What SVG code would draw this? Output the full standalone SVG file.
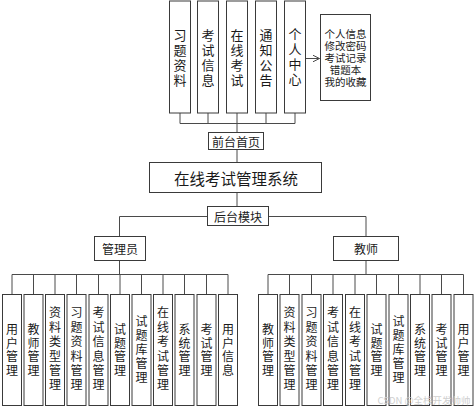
<svg xmlns="http://www.w3.org/2000/svg" width="474" height="409" viewBox="0 0 474 409">
<style>
.box{fill:#fff;stroke:#3a3a3a;stroke-width:1}
.ln{fill:none;stroke:#4a4a4a;stroke-width:1}
text{font-family:"Noto Sans CJK SC","Noto Sans",sans-serif;fill:#1a1a1a;text-anchor:middle;dominant-baseline:central}
.v{writing-mode:vertical-rl}
.t13{font-size:13px;letter-spacing:2px}
.v4{font-size:12px;letter-spacing:1.5px}
.v5{font-size:12px;letter-spacing:2px}
.v6{font-size:12px;letter-spacing:2.4px}
.t12{font-size:12px}
.t11{font-size:10.5px}
.big{font-size:15.5px}
.wm{font-size:9.5px;fill:#d0d0d0}
</style>
<defs>
<marker id="arr" markerWidth="8" markerHeight="8" refX="7" refY="4" orient="auto" markerUnits="userSpaceOnUse">
<path d="M0,0.5 L7,4 L0,7.5" fill="none" stroke="#4a4a4a" stroke-width="1"/>
</marker>
</defs>
<rect width="474" height="409" fill="#fff"/>
<g id="connectors">
<path class="ln" d="M180,113 V123.5 M208,113 V123.5 M237,113 V123.5 M266,113 V123.5 M295,113 V123.5 M180,123.5 H295 M237,123.5 V132"/>
<path class="ln" d="M306,58.5 H319.5" marker-end="url(#arr)"/>
<path class="ln" d="M237,150 V162 M237,193 V206"/>
<path class="ln" d="M119.5,216.5 H366 M119.5,216.5 V236 M366,216.5 V236"/>
<path class="ln" d="M119.5,261 V274.5 M12,274.5 H228 M12,274.5 V294 M33.5,274.5 V294 M55,274.5 V294 M76.5,274.5 V294 M98.5,274.5 V294 M120,274.5 V294 M141.5,274.5 V294 M163,274.5 V294 M184.5,274.5 V294 M206.5,274.5 V294 M228,274.5 V294"/>
<path class="ln" d="M366,261 V274.5 M268,274.5 H463.5 M268,274.5 V294 M289.5,274.5 V294 M311.5,274.5 V294 M333,274.5 V294 M355,274.5 V294 M376.5,274.5 V294 M398.5,274.5 V294 M420,274.5 V294 M441.5,274.5 V294 M463.5,274.5 V294"/>
</g>
<g id="top1"><rect class="box" x="169.5" y="1" width="21" height="112"/><text class="v t13" x="180" y="58.5">习题资料</text></g>
<g id="top2"><rect class="box" x="197.5" y="1" width="21" height="112"/><text class="v t13" x="208" y="58.5">考试信息</text></g>
<g id="top3"><rect class="box" x="226.5" y="1" width="21" height="112"/><text class="v t13" x="237" y="58.5">在线考试</text></g>
<g id="top4"><rect class="box" x="255.5" y="1" width="21" height="112"/><text class="v t13" x="266" y="58.5">通知公告</text></g>
<g id="top5"><rect class="box" x="284.5" y="1" width="21" height="112"/><text class="v t13" x="295" y="58">个人中心</text></g>
<g id="personal"><rect class="box" x="320.5" y="14.5" width="50" height="86"/><text class="t11"><tspan x="345.5" y="33">个人信息</tspan><tspan x="345.5" y="44.5">修改密码</tspan><tspan x="345.5" y="56.5">考试记录</tspan><tspan x="345.5" y="68.5">错题本</tspan><tspan x="345.5" y="81">我的收藏</tspan></text></g>
<g id="front"><rect class="box" x="208.5" y="132.5" width="55" height="17"/><text class="t12" x="236" y="141">前台首页</text></g>
<g id="main"><rect class="box" x="149.5" y="162.5" width="172" height="30"/><text class="big" x="236" y="177.5">在线考试管理系统</text></g>
<g id="back"><rect class="box" x="207.5" y="206.5" width="61" height="19"/><text class="t12" x="238" y="216">后台模块</text></g>
<g id="admin"><rect class="box" x="94.5" y="236.5" width="51" height="24"/><text class="t12" x="120" y="248.5">管理员</text></g>
<g id="teacher"><rect class="box" x="333.5" y="236.5" width="65" height="24"/><text class="t12" x="366" y="248.5">教师</text></g>
<g id="a1"><rect class="box" x="2.5" y="294.5" width="19" height="111"/><text class="v v4" x="12" y="350.5">用户管理</text></g>
<g id="a2"><rect class="box" x="24" y="294.5" width="19" height="111"/><text class="v v4" x="33.5" y="350.5">教师管理</text></g>
<g id="a3"><rect class="box" x="45.5" y="294.5" width="19" height="111"/><text class="v v6" x="55" y="350">资料类型管理</text></g>
<g id="a4"><rect class="box" x="67" y="294.5" width="19" height="111"/><text class="v v6" x="76.5" y="350">习题资料管理</text></g>
<g id="a5"><rect class="box" x="89" y="294.5" width="19" height="111"/><text class="v v6" x="98.5" y="350">考试信息管理</text></g>
<g id="a6"><rect class="box" x="110.5" y="294.5" width="19" height="111"/><text class="v v4" x="120" y="350.5">试题管理</text></g>
<g id="a7"><rect class="box" x="132" y="294.5" width="19" height="111"/><text class="v v5" x="141.5" y="350.5">试题库管理</text></g>
<g id="a8"><rect class="box" x="153.5" y="294.5" width="19" height="111"/><text class="v v6" x="163" y="350">在线考试管理</text></g>
<g id="a9"><rect class="box" x="175" y="294.5" width="19" height="111"/><text class="v v4" x="184.5" y="350.5">系统管理</text></g>
<g id="a10"><rect class="box" x="197" y="294.5" width="19" height="111"/><text class="v v4" x="206.5" y="350.5">考试管理</text></g>
<g id="a11"><rect class="box" x="218.5" y="294.5" width="19" height="111"/><text class="v v4" x="228" y="350.5">用户信息</text></g>
<g id="t1"><rect class="box" x="258.5" y="294.5" width="19" height="111"/><text class="v v4" x="268" y="350.5">教师管理</text></g>
<g id="t2"><rect class="box" x="280" y="294.5" width="19" height="111"/><text class="v v6" x="289.5" y="350">资料类型管理</text></g>
<g id="t3"><rect class="box" x="302" y="294.5" width="19" height="111"/><text class="v v6" x="311.5" y="350">习题资料管理</text></g>
<g id="t4"><rect class="box" x="323.5" y="294.5" width="19" height="111"/><text class="v v6" x="333" y="350">考试信息管理</text></g>
<g id="t5"><rect class="box" x="345.5" y="294.5" width="19" height="111"/><text class="v v6" x="355" y="350">在线考试管理</text></g>
<g id="t6"><rect class="box" x="367" y="294.5" width="19" height="111"/><text class="v v4" x="376.5" y="350.5">试题管理</text></g>
<g id="t7"><rect class="box" x="389" y="294.5" width="19" height="111"/><text class="v v5" x="398.5" y="350.5">试题库管理</text></g>
<g id="t8"><rect class="box" x="410.5" y="294.5" width="19" height="111"/><text class="v v4" x="420" y="350.5">系统管理</text></g>
<g id="t9"><rect class="box" x="432" y="294.5" width="19" height="111"/><text class="v v4" x="441.5" y="350.5">考试管理</text></g>
<g id="t10"><rect class="box" x="454" y="294.5" width="19" height="111"/><text class="v v4" x="463.5" y="350.5">用户管理</text></g>
<text class="wm" x="424" y="400">CSDN @全栈开发帅帅</text>
</svg>
